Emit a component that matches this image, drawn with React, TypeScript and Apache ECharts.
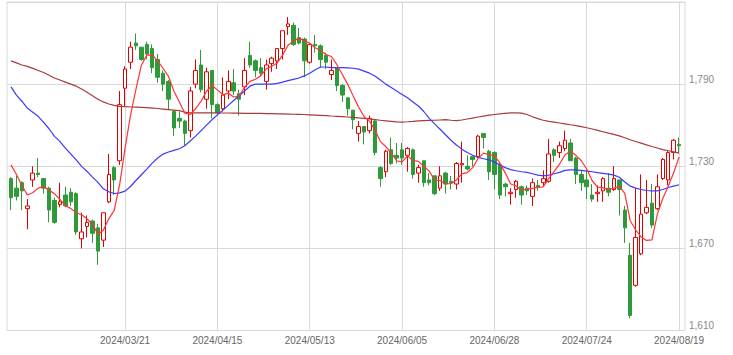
import React, { useEffect, useRef } from "react";
import * as echarts from "echarts";

const dates = [
  "2024/02/19","2024/02/20","2024/02/21","2024/02/22","2024/02/26","2024/02/27","2024/02/28","2024/02/29",
  "2024/03/01","2024/03/04","2024/03/05","2024/03/06","2024/03/07","2024/03/08","2024/03/11","2024/03/12","2024/03/13","2024/03/14","2024/03/15","2024/03/18","2024/03/19","2024/03/21","2024/03/22","2024/03/25","2024/03/26","2024/03/27","2024/03/28","2024/03/29",
  "2024/04/01","2024/04/02","2024/04/03","2024/04/04","2024/04/05","2024/04/08","2024/04/09","2024/04/10","2024/04/11","2024/04/12","2024/04/15","2024/04/16","2024/04/17","2024/04/18","2024/04/19","2024/04/22","2024/04/23","2024/04/24","2024/04/25","2024/04/26","2024/04/30",
  "2024/05/01","2024/05/02","2024/05/07","2024/05/08","2024/05/09","2024/05/10","2024/05/13","2024/05/14","2024/05/15","2024/05/16","2024/05/17","2024/05/20","2024/05/21","2024/05/22","2024/05/23","2024/05/24","2024/05/27","2024/05/28","2024/05/29","2024/05/30","2024/05/31",
  "2024/06/03","2024/06/04","2024/06/05","2024/06/06","2024/06/07","2024/06/10","2024/06/11","2024/06/12","2024/06/13","2024/06/14","2024/06/17","2024/06/18","2024/06/19","2024/06/20","2024/06/21","2024/06/24","2024/06/25","2024/06/26","2024/06/27","2024/06/28",
  "2024/07/01","2024/07/02","2024/07/03","2024/07/04","2024/07/05","2024/07/08","2024/07/09","2024/07/10","2024/07/11","2024/07/12","2024/07/16","2024/07/17","2024/07/18","2024/07/19","2024/07/22","2024/07/23","2024/07/24","2024/07/25","2024/07/26","2024/07/29","2024/07/30","2024/07/31",
  "2024/08/01","2024/08/02","2024/08/05","2024/08/06","2024/08/07","2024/08/08","2024/08/09","2024/08/13","2024/08/14","2024/08/15","2024/08/16","2024/08/19",
];

const tickLabels = ["2024/03/21","2024/04/15","2024/05/13","2024/06/05","2024/06/28","2024/07/24","2024/08/19"];

const opens = [
  1721,1714,1718,1699,1720,1725,1721,1714,1705,1702,
  1709,1711,1710,1677,1686,1690,1685,1676,1704,1729,
  1734,1787,1806,1820,1817,1819,1816,1808,1798,1792,
  1770,1765,1763,1756,1790,1804,1779,1800,1775,1772,
  1785,1791,1783,1788,1811,1807,1802,1792,1805,1807,
  1816,1832,1833,1824,1823,1806,1819,1818,1811,1797,
  1802,1789,1780,1771,1754,1759,1756,1763,1729,1726,
  1742,1738,1742,1738,1742,1725,1734,1720,1723,1714,
  1725,1719,1717,1731,1730,1737,1737,1754,1741,1740,
  1731,1717,1710,1713,1715,1714,1708,1716,1718,1719,
  1742,1740,1743,1747,1736,1724,1720,1709,1710,1712,
  1714,1713,1720,1698,1665,1643,1666,1696,1703,1699,
  1721,1720,1740,1746,
];

const closes = [
  1707,1708,1712,1701,1725,1724,1714,1698,1689,1704,
  1701,1704,1682,1682,1689,1681,1668,1696,1724,1720,
  1775,1801,1817,1818,1808,1812,1802,1795,1790,1779,
  1758,1763,1754,1785,1800,1786,1799,1775,1769,1782,
  1792,1785,1779,1800,1804,1800,1798,1804,1809,1816,
  1829,1834,1819,1820,1807,1819,1818,1808,1806,1800,
  1789,1782,1772,1764,1759,1755,1765,1740,1721,1741,
  1732,1736,1736,1743,1724,1729,1718,1718,1710,1723,
  1717,1718,1732,1732,1728,1735,1752,1751,1726,1724,
  1709,1715,1711,1719,1709,1712,1718,1715,1721,1739,
  1738,1745,1749,1734,1724,1718,1715,1706,1711,1721,
  1711,1721,1713,1685,1621,1678,1695,1700,1687,1715,
  1735,1740,1749,1745,
];

const lows = [
  1698,1705,1698,1684,1715,1722,1710,1689,1688,1700,
  1700,1701,1680,1670,1678,1674,1658,1671,1703,1709,
  1731,1774,1801,1815,1807,1808,1798,1791,1785,1771,
  1752,1758,1745,1751,1787,1784,1772,1765,1767,1770,
  1779,1782,1767,1782,1802,1795,1796,1786,1799,1801,
  1808,1826,1818,1819,1795,1805,1813,1802,1801,1793,
  1785,1777,1767,1757,1748,1746,1754,1738,1715,1722,
  1731,1732,1731,1726,1721,1718,1715,1716,1709,1712,
  1710,1713,1713,1718,1727,1730,1736,1743,1720,1713,
  1706,1708,1702,1707,1702,1709,1701,1712,1715,1718,
  1733,1736,1741,1734,1717,1712,1706,1704,1704,1704,
  1708,1712,1694,1674,1619,1642,1665,1695,1685,1698,
  1720,1716,1735,1740,
];

const highs = [
  1722,1723,1719,1706,1730,1736,1721,1715,1707,1718,
  1715,1714,1711,1696,1694,1691,1688,1696,1739,1730,
  1785,1803,1821,1827,1817,1821,1819,1812,1800,1793,
  1771,1770,1764,1788,1808,1815,1802,1800,1776,1795,
  1800,1801,1786,1809,1821,1808,1809,1808,1810,1816,
  1829,1839,1835,1831,1824,1820,1826,1819,1813,1808,
  1802,1790,1780,1771,1763,1759,1767,1764,1730,1742,
  1751,1747,1747,1744,1743,1731,1734,1725,1723,1730,
  1726,1723,1733,1748,1738,1737,1753,1754,1742,1741,
  1733,1718,1714,1720,1716,1716,1721,1720,1727,1750,
  1743,1748,1756,1750,1737,1727,1727,1717,1716,1722,
  1725,1730,1720,1701,1674,1714,1724,1720,1717,1724,
  1736,1741,1750,1751,
];

// short moving average (red)
const maShort = [
  1731,1724,1716,1709,
  1710.6,1714.0,1715.2,1712.4,1710.0,1705.8,1701.2,1699.2,1696.0,1694.6,
  1691.6,1687.6,1680.4,1683.2,1691.6,1697.8,1716.6,1743.2,1767.4,1786.2,
  1803.8,1811.2,1811.4,1807.0,1801.4,1795.6,1784.8,1777.0,1768.8,1767.8,
  1772.0,1777.6,1784.8,1789.0,1785.8,1782.2,1783.4,1780.6,1781.4,1787.6,
  1792.0,1793.6,1796.2,1801.2,1803.0,1805.4,1811.2,1818.4,1821.4,1823.6,
  1821.8,1819.8,1816.6,1814.4,1811.6,1810.2,1804.2,1797.0,1789.8,1781.4,
  1773.2,1766.4,1763.0,1756.6,1748.0,1744.4,1739.8,1734.0,1733.2,1737.6,
  1734.2,1733.6,1730.0,1726.4,1719.8,1719.6,1717.2,1717.2,1720.0,1724.4,
  1725.4,1729.0,1735.8,1739.6,1738.4,1737.6,1732.4,1725.0,1717.0,1715.6,
  1712.6,1713.2,1713.8,1714.6,1715.0,1721.0,1726.2,1731.6,1738.4,1741.0,
  1738.0,1734.0,1728.0,1719.4,1714.8,1714.2,1712.8,1714.0,1715.4,1710.2,
  1690.2,1683.6,1678.4,1675.8,1676.2,1695.0,1706.4,1715.4,1725.2,1736.8,
];

// medium moving average (blue)
const maMid = [
  1788,1782,1777.5,1772.5,1769.5,1766.5,1762.1,1757.4,1751.8,1748.2,
  1743.3,1739.1,1734.7,1729.9,1726.2,1722.1,1718.2,1713.5,1711.3,1710.1,
  1710.6,1711.8,1715.2,1719.6,1723.8,1727.9,1732.3,1736,1738.9,1740.4,
  1741.6,1742.8,1745,1748.5,1752,1756,1760,1764,1767.5,1771,
  1774.5,1778,1781.5,1785,1788.5,1790,1790,1790,1790,1790.5,
  1791.5,1792.5,1793.5,1794.5,1796,1798,1800.5,1802.5,1802.5,1802,
  1802,1802,1801.8,1801.6,1801,1799.5,1798,1796,1793,1790,
  1787.5,1785,1782.5,1780,1777,1774,1770,1765,1761,1757,
  1753,1749,1745.5,1742.5,1740,1738,1736.5,1735.5,1734.7,1733,
  1731,1729,1727.5,1726.7,1726,1725.5,1724.5,1723.5,1723,1723.5,
  1724.5,1725.5,1727,1727.3,1727.4,1727,1726.5,1726,1725.3,1724.8,
  1724.3,1723.5,1722,1718.5,1715.5,1714,1713,1712.3,1712,1712,
  1713,1714.5,1715.5,1716.5,
];

// long moving average (brown)
const maLong = [
  1807,1805.5,1804,1803,1801.5,1800,1798.5,1796.5,1794.5,1793,
  1791.5,1790,1788.5,1786.5,1784,1781.5,1779,1777,1775.5,1774.5,
  1773.8,1773.5,1773.3,1773.2,1773,1772.8,1772.5,1772.2,1771.8,1771.4,
  1771,1770.6,1769.5,1769,1769,1769,1769,1769,1769,1768.9,
  1768.9,1768.8,1768.8,1768.7,1768.7,1768.6,1768.6,1768.5,1768.4,1768.3,
  1768.2,1768.1,1768,1767.9,1767.8,1767.6,1767.4,1767.2,1767,1766.7,
  1766.5,1766.3,1766,1765.7,1765.3,1765,1764.6,1764.1,1763.6,1763.2,
  1762.8,1762.4,1762.3,1762.5,1762.8,1763.2,1763.4,1763.5,1763.6,1763.8,
  1764,1763.6,1763.3,1763.8,1764.5,1765.2,1766,1766.6,1767.3,1767.8,
  1768.2,1768.7,1769,1769,1768.8,1767.8,1766.2,1764.8,1763.6,1762.8,
  1762.2,1761.6,1761,1760.3,1759.7,1759,1758.1,1757.2,1756.2,1755.2,
  1754.2,1753.3,1752.2,1750.8,1749.4,1748.1,1746.9,1745.6,1744.4,1743.3,
  1742.1,1741.3,1740.5,1739.6,
];

const yMin = 1610;
const yMax = 1850;
const yStep = 60;

const FONT = "'Liberation Sans', Arial, sans-serif";
const GRID_COLOR = "#d9d9d9";

export default function App() {
  const ref = useRef<HTMLDivElement>(null);

  useEffect(() => {
    if (!ref.current) return;
    const chart = echarts.init(ref.current, null, { renderer: "svg" });
    const candles = dates.map((_, i) => [opens[i], closes[i], lows[i], highs[i]]);
    const isTick = (_i: number, v: string) => tickLabels.indexOf(v) >= 0;

    chart.setOption({
      animation: false,
      backgroundColor: "#ffffff",
      grid: [
        { left: 8.3, width: 673.5, top: 2, height: 328.5 },
        {
          left: 7,
          width: 678,
          top: 2,
          height: 328.5,
          show: true,
          borderColor: GRID_COLOR,
          borderWidth: 1,
          backgroundColor: "transparent",
        },
      ],
      xAxis: [
        {
          type: "category",
          gridIndex: 0,
          data: dates,
          boundaryGap: true,
          axisLine: { show: false },
          axisTick: { show: false },
          axisLabel: {
            interval: isTick,
            color: "#666",
            fontSize: 10,
            fontFamily: FONT,
            margin: 5,
          },
          splitLine: {
            show: true,
            interval: isTick,
            alignWithLabel: true,
            lineStyle: { color: GRID_COLOR, width: 1 },
          },
        },
        { type: "value", gridIndex: 1, min: 0, max: 1, show: false },
      ],
      yAxis: [
        { type: "value", gridIndex: 0, min: yMin, max: yMax, show: false },
        {
          type: "value",
          gridIndex: 1,
          position: "right",
          min: yMin,
          max: yMax,
          interval: yStep,
          axisLine: { show: false },
          axisTick: { show: false },
          splitLine: { show: true, lineStyle: { color: GRID_COLOR, width: 1 } },
          axisLabel: {
            margin: 4,
            color: "#888",
            fontSize: 10,
            fontFamily: FONT,
            verticalAlign: "bottom",
            showMaxLabel: false,
            formatter: (v: number) => v.toLocaleString("en-US"),
          },
        },
      ],
      series: [
        {
          type: "candlestick",
          xAxisIndex: 0,
          yAxisIndex: 0,
          data: candles,
          barWidth: 4,
          itemStyle: {
            color: "#ffffff",
            color0: "#2e9a3a",
            borderColor: "#e00000",
            borderColor0: "#2e9a3a",
            borderWidth: 1,
          },
        },
        {
          type: "line",
          xAxisIndex: 0,
          yAxisIndex: 0,
          data: maLong,
          symbol: "none",
          lineStyle: { color: "#a83a3a", width: 1.2 },
          z: 3,
        },
        {
          type: "line",
          xAxisIndex: 0,
          yAxisIndex: 0,
          data: maMid,
          symbol: "none",
          lineStyle: { color: "#3a3aff", width: 1.2 },
          z: 3,
        },
        {
          type: "line",
          xAxisIndex: 0,
          yAxisIndex: 0,
          data: maShort,
          symbol: "none",
          lineStyle: { color: "#ff3333", width: 1.2 },
          z: 3,
        },
      ],
    });

    return () => chart.dispose();
  }, []);

  return (
    <div
      ref={ref}
      style={{ position: "absolute", left: 0, top: 0, width: 733, height: 355, background: "#fff" }}
    />
  );
}
